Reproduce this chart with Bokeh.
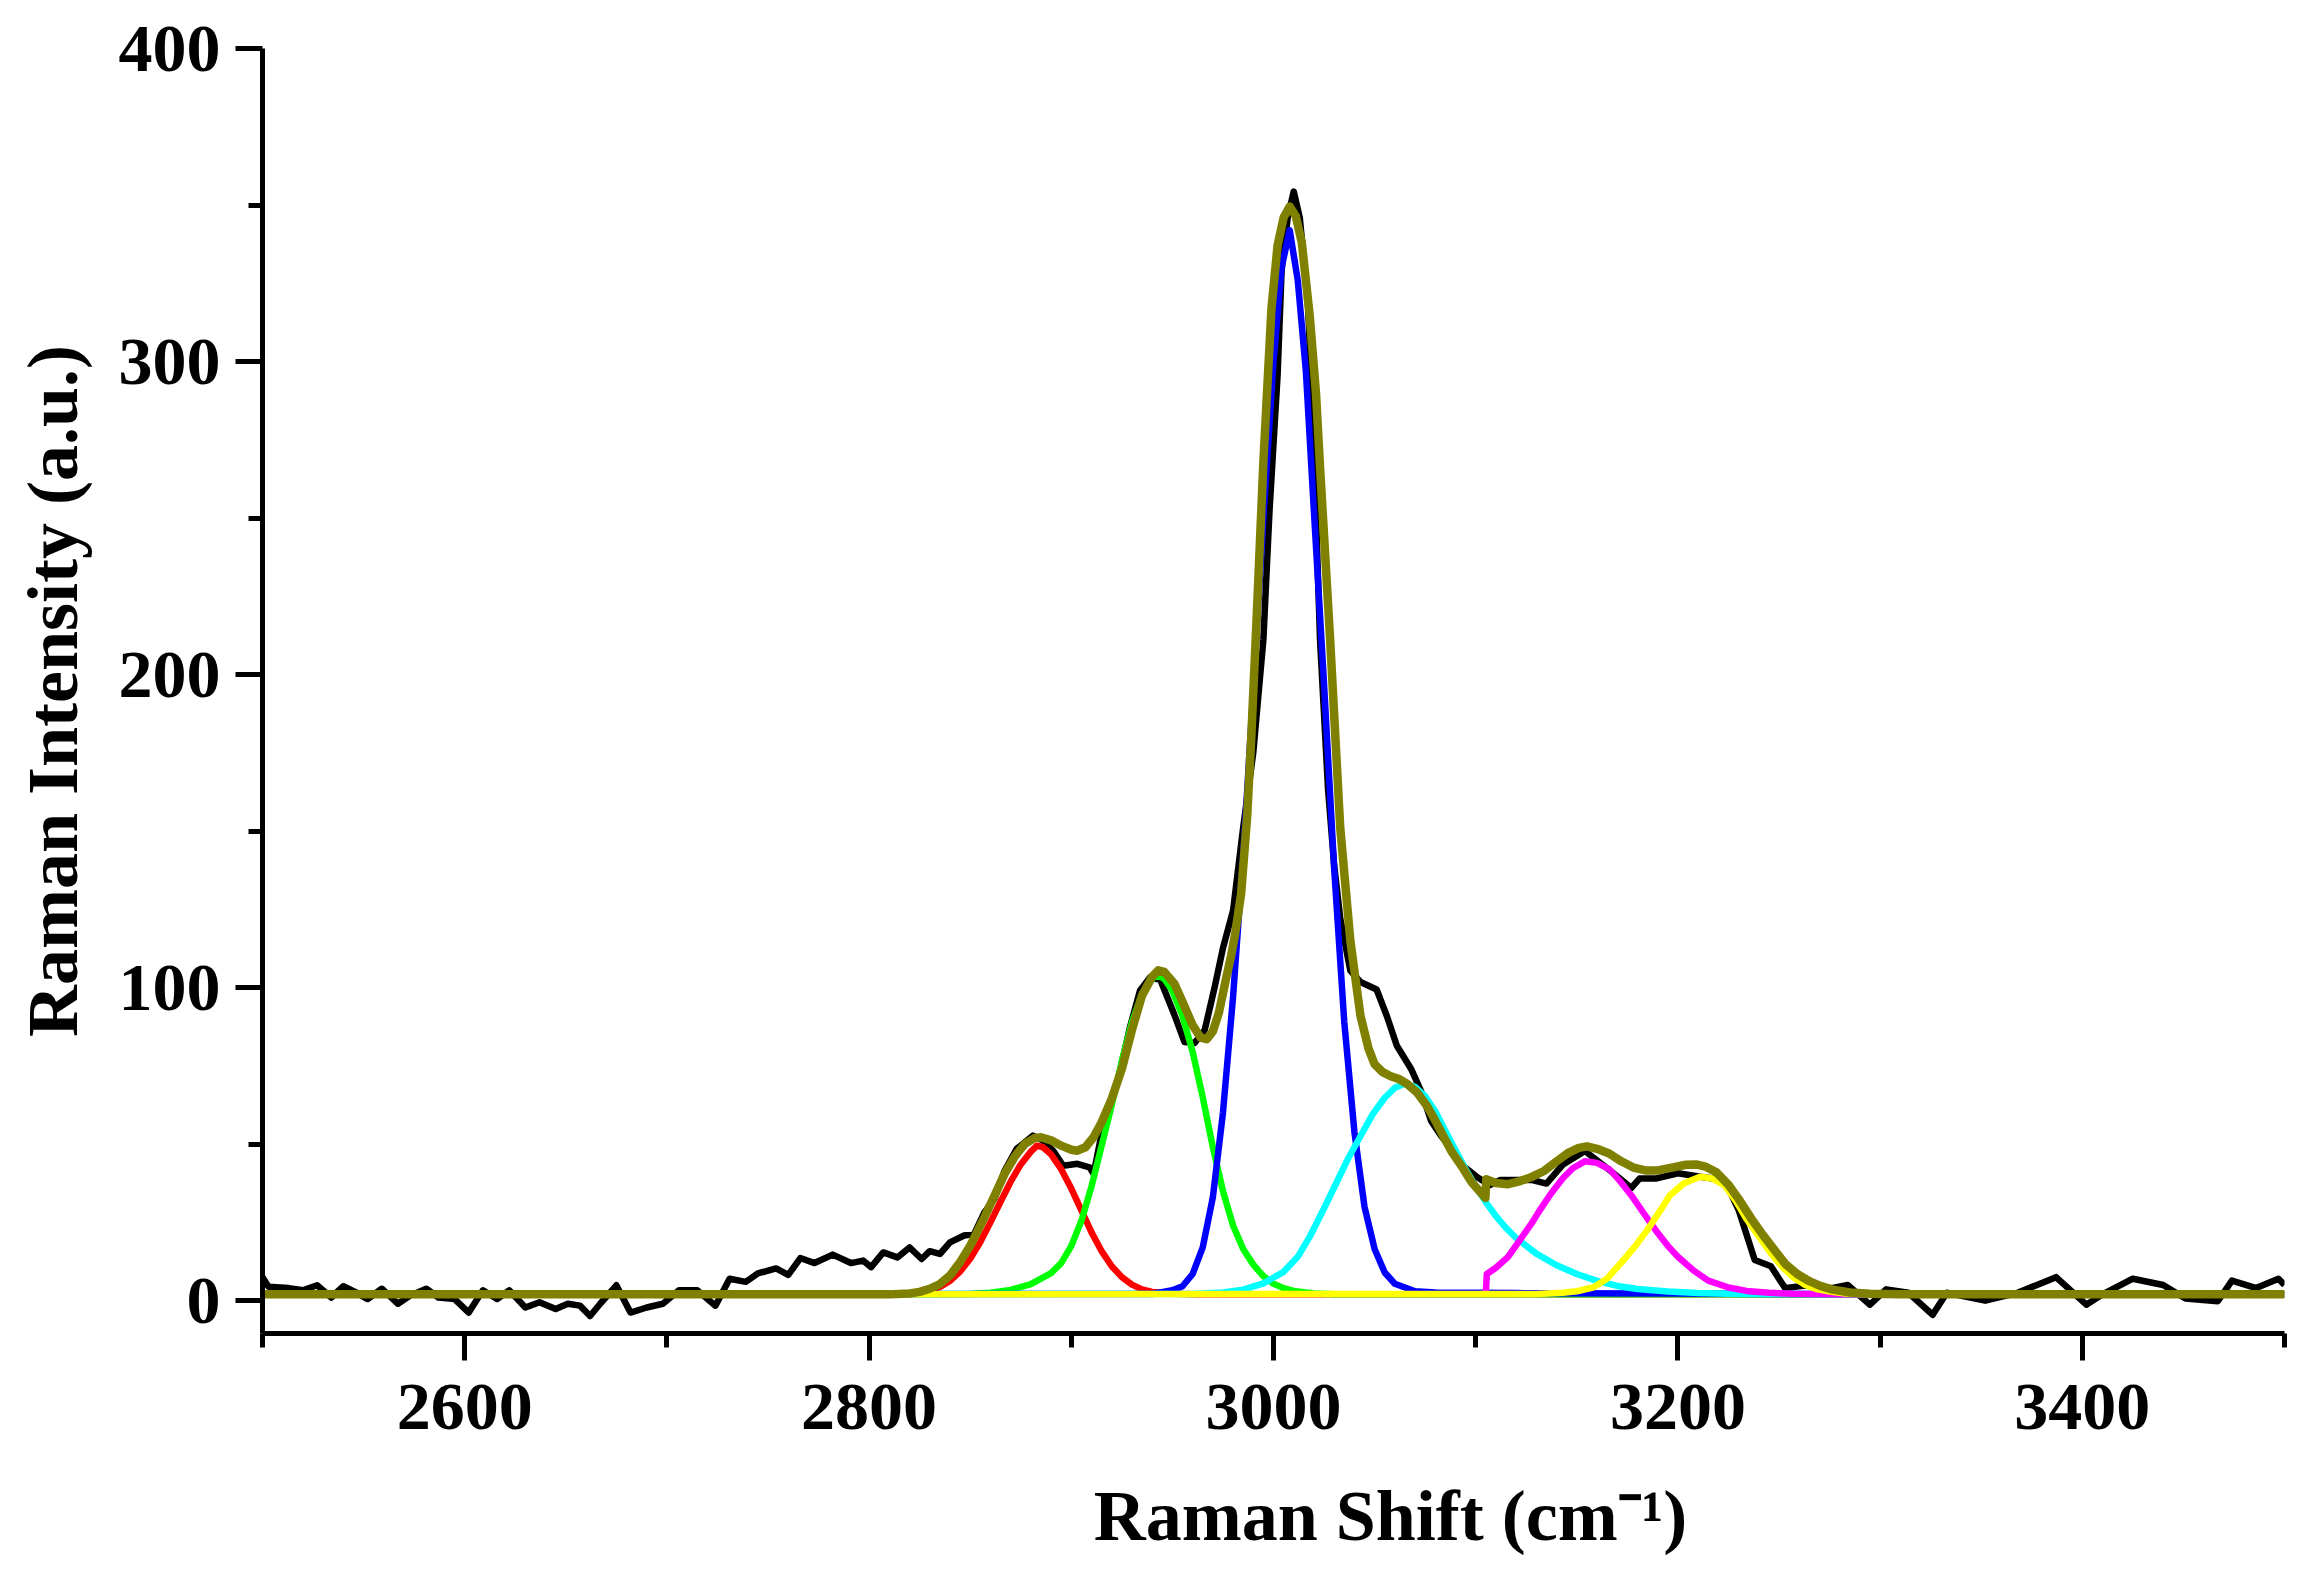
from bokeh.plotting import figure
from bokeh.models import Range1d, FixedTicker
from bokeh.embed import file_html
from bokeh.resources import INLINE

# ---------------- data ----------------
# measured spectrum (black)
data_x = [2500, 2503, 2513, 2520, 2527, 2534, 2540, 2546, 2552, 2559, 2567, 2573, 2581, 2587, 2595,
          2602, 2609, 2616, 2622, 2630, 2637, 2645, 2651, 2657, 2662, 2667, 2675, 2682, 2690, 2698,
          2706, 2715, 2724, 2731, 2739, 2745, 2754, 2760, 2766, 2773, 2782, 2791, 2797, 2801, 2807,
          2814, 2820, 2826, 2830, 2835, 2840, 2847, 2852, 2857, 2862, 2867, 2873, 2881, 2886, 2891,
          2896, 2903, 2909, 2911, 2916, 2923, 2929, 2934, 2939, 2944, 2951, 2956, 2961, 2966, 2971,
          2975, 2980, 2985, 2990, 2995, 2998, 3002, 3004, 3007, 3010, 3013, 3017, 3020, 3023, 3027,
          3030, 3033, 3038, 3043, 3051, 3056, 3061, 3068, 3073, 3078, 3083, 3089, 3094, 3101, 3107,
          3112, 3120, 3128, 3135, 3143, 3154, 3166, 3177, 3181, 3189, 3200, 3211, 3223, 3230, 3238,
          3246, 3253, 3265, 3276, 3284, 3295, 3303, 3314, 3326, 3333, 3352, 3368, 3387, 3402, 3410,
          3425, 3440, 3451, 3467, 3474, 3486, 3497, 3500]
data_y = [7.5, 4.4, 4.0, 3.3, 4.9, 1.0, 4.6, 2.7, 0.5, 3.8, -1.0, 1.6, 3.8, 1.0, 0.5,
          -3.8, 3.3, 0.5, 3.3, -2.2, -0.5, -2.7, -1.0, -1.6, -4.9, -1.0, 4.9, -3.8, -2.2, -1.0,
          3.3, 3.3, -1.6, 7.0, 6.0, 8.7, 10.3, 8.2, 13.6, 12.0, 14.7, 12.0, 12.8, 10.7, 15.4,
          13.8, 17.0, 13.3, 15.8, 14.9, 18.6, 20.8, 21.3, 28.2, 32.5, 41.5, 48.5, 52.7, 51.1, 47.9,
          43.1, 43.7, 42.6, 40.5, 56.5, 70.3, 87.3, 99.1, 103.3, 102.5, 91.3, 82.6, 82.3, 86.5, 100.4,
          112.6, 124.6, 151.1, 175.1, 211.2, 252.0, 295.4, 329.0, 345.9, 354.3, 345.9, 319.4, 271.3, 211.3, 163.1,
          139.1, 122.2, 105.4, 101.8, 99.4, 91.0, 81.4, 74.1, 66.9, 57.3, 52.5, 47.7, 42.9, 39.3, 36.9,
          38.5, 38.5, 38.5, 37.4, 43.4, 47.8, 41.8, 36.0, 39.0, 39.0, 40.7, 39.6, 38.5, 29.0, 13.0,
          11.0, 4.0, 5.0, 4.0, 5.0, -1.3, 3.6, 2.5, -4.5, 2.5, 0.0, 2.5, 7.5, -1.3, 2.0,
          7.0, 5.0, 0.7, -0.2, 6.4, 4.0, 7.0, 5.0]

# fitted peak 1 (red)
red_x = [2500, 2810, 2820, 2825, 2830, 2835, 2840, 2845, 2850, 2855, 2860, 2865, 2870, 2875, 2880, 2883,
         2886, 2890, 2895, 2900, 2905, 2910, 2915, 2920, 2925, 2930, 2935, 2940, 2950, 2960, 3500]
red_y = [2.0, 2.0, 2.2, 2.6, 3.3, 4.4, 6.3, 9.3, 13.4, 18.7, 25.0, 31.6, 38.0, 43.5, 47.6, 49.5,
         49.0, 46.7, 42.0, 35.8, 28.8, 21.8, 15.8, 11.0, 7.5, 5.1, 3.6, 2.8, 2.2, 2.0, 2.0]

# fitted peak 2 (green)
green_x = [2500, 2850, 2860, 2870, 2880, 2890, 2895, 2900, 2905, 2910, 2915, 2920, 2925, 2930, 2935, 2940,
           2943, 2946, 2950, 2955, 2960, 2965, 2970, 2975, 2980, 2985, 2990, 2995, 3000, 3005, 3010,
           3020, 3030, 3500]
green_y = [2.0, 2.1, 2.5, 3.4, 5.3, 8.8, 12.0, 17.5, 25.5, 36.5, 49.5, 62.5, 76.5, 89.0, 98.0, 103.0,
           103.9, 102.8, 99.0, 91.0, 79.5, 65.0, 49.0, 35.0, 24.0, 16.5, 11.5, 7.8, 5.4, 4.0, 3.1,
           2.3, 2.0, 2.0]

# fitted peak 3 (blue)
blue_x = [2500, 2940, 2950, 2955, 2960, 2965, 2970, 2975, 2980, 2985, 2990, 2995, 3000, 3004, 3008,
          3012, 3016, 3020, 3025, 3030, 3035, 3040, 3045, 3050, 3055, 3060, 3070, 3080, 3120, 3200,
          3260, 3500]
blue_y = [2.0, 2.1, 3.3, 4.6, 8.5, 17.0, 33.0, 60.0, 97.0, 142.0, 195.0, 250.0, 300.0, 330.0, 342.0,
          326.0, 297.0, 252.0, 197.0, 138.0, 89.0, 54.0, 30.0, 16.5, 9.0, 5.4, 3.0, 2.6, 2.4, 2.3,
          2.1, 2.0]

# fitted peak 4 (cyan)
cyan_x = [2500, 2960, 2975, 2985, 2995, 3005, 3012, 3018, 3025, 3031, 3037, 3043, 3049, 3055, 3060,
          3065, 3070, 3075, 3080, 3085, 3090, 3095, 3100, 3105, 3110, 3115, 3120, 3130, 3140, 3150,
          3160, 3170, 3180, 3195, 3210, 3230, 3500]
cyan_y = [2.0, 2.1, 2.6, 3.5, 5.5, 9.2, 14.0, 20.5, 29.5, 37.5, 45.5, 52.5, 59.5, 64.8, 68.0,
          69.3, 68.3, 65.3, 60.5, 54.2, 48.0, 42.0, 36.5, 31.5, 27.0, 23.2, 20.0, 15.0, 11.3, 8.5,
          6.3, 4.7, 3.7, 2.9, 2.4, 2.1, 2.0]

# fitted peak 5 (magenta), starts at 3105
magenta_x = [3105, 3105.5, 3110, 3116, 3122, 3128, 3131, 3137, 3143, 3148, 3154, 3160, 3166, 3171,
             3177, 3183, 3189, 3195, 3200, 3208, 3215, 3225, 3234, 3245, 3257, 3284, 3500]
magenta_y = [2.2, 8.5, 10.5, 14.0, 19.5, 25.0, 28.2, 34.0, 39.0, 42.3, 44.5, 44.0, 42.0, 38.5,
             33.6, 28.0, 22.5, 17.5, 14.0, 9.5, 6.4, 4.2, 3.1, 2.5, 2.2, 2.0, 2.0]

# fitted peak 6 (yellow)
yellow_x = [2500, 3130, 3143, 3150, 3158, 3165, 3173, 3179, 3185, 3191, 3196, 3203, 3211, 3217, 3223,
            3229, 3234, 3240, 3246, 3252, 3257, 3263, 3269, 3276, 3284, 3300, 3500]
yellow_y = [2.0, 2.1, 2.5, 3.0, 4.2, 7.0, 12.9, 17.5, 22.7, 28.5, 33.6, 37.5, 39.6, 39.0, 36.9,
            31.5, 26.0, 20.5, 15.1, 10.5, 7.5, 5.0, 3.6, 2.8, 2.2, 2.0, 2.0]

# cumulative fit (olive)
fit_x = [2500, 2810, 2820, 2825, 2830, 2835, 2840, 2845, 2850, 2857, 2862, 2867, 2872, 2877, 2882,
         2885, 2890, 2895, 2900, 2903, 2907, 2911, 2915, 2920, 2925, 2930, 2935, 2940, 2943, 2946,
         2951, 2955, 2960, 2964, 2967, 2970, 2973, 2976, 2979, 2981, 2984, 2987, 2989, 2992, 2995,
         2999, 3002, 3005, 3008, 3011, 3014, 3018, 3021, 3023, 3028, 3033, 3038, 3043, 3047, 3050,
         3054, 3058, 3062, 3066, 3071, 3076, 3080, 3084, 3088, 3093, 3098, 3104.8, 3105.2, 3110, 3116,
         3122, 3128, 3134, 3140, 3146, 3151, 3155, 3160, 3166, 3172, 3178, 3184, 3190, 3197, 3204,
         3209, 3214, 3219, 3225, 3230, 3236, 3242, 3248, 3253, 3259, 3265, 3270, 3276, 3285, 3295,
         3310, 3500]
fit_y = [2.0, 2.0, 2.3, 2.8, 3.8, 5.3, 8.0, 12.3, 17.5, 26.6, 33.5, 40.5, 46.0, 50.1, 52.0,
         52.2, 51.2, 49.5, 48.2, 47.9, 49.0, 52.2, 57.0, 64.5, 74.0, 86.5, 97.5, 103.5, 105.5, 105.0,
         101.2, 95.5, 88.0, 84.0, 83.5, 86.0, 92.0, 101.3, 110.0, 117.0, 130.0, 155.0, 180.0, 223.0, 268.0,
         317.0, 337.0, 346.0, 349.5, 346.5, 338.0, 314.0, 290.0, 266.5, 211.3, 151.1, 115.0, 91.0, 80.5, 75.5,
         73.0, 71.7, 70.8, 69.3, 66.5, 62.1, 57.5, 52.5, 47.7, 43.0, 37.8, 32.8, 38.8, 37.6, 37.2,
         38.2, 39.6, 41.5, 44.5, 47.3, 48.8, 49.3, 48.5, 47.0, 44.5, 42.5, 41.6, 41.6, 42.5, 43.4,
         43.5, 42.7, 41.0, 37.0, 32.5, 26.5, 21.0, 16.0, 11.8, 8.5, 6.2, 4.8, 3.6, 2.6, 2.2,
         2.0, 2.0]

x_major_ticks = [2600, 2800, 3000, 3200, 3400]
x_minor_ticks = [2500, 2700, 2900, 3100, 3300, 3500]
y_major_ticks = [0, 100, 200, 300, 400]
y_minor_ticks = [50, 150, 250, 350]

# the reference title sits right of the axis centre: leading no-break spaces shift it
x_label = "\u00a0" * 13 + "Raman Shift (cm\u207b\u00b9)"
y_label = "Raman Intensity (a.u.)"

# ---------------- figure ----------------
FONT = "Liberation Serif"

p = figure(width=2306, height=1572, output_backend="svg", toolbar_location=None, title=None,
           x_range=Range1d(2500, 3500), y_range=Range1d(-10.5, 400),
           min_border_left=262, min_border_right=22, min_border_top=48, min_border_bottom=239)
p.outline_line_color = None
p.xgrid.visible = False
p.ygrid.visible = False
p.background_fill_color = "white"
p.border_fill_color = "white"

p.xaxis.ticker = FixedTicker(ticks=x_major_ticks, minor_ticks=x_minor_ticks)
p.yaxis.ticker = FixedTicker(ticks=y_major_ticks, minor_ticks=y_minor_ticks)

for ax in (p.xaxis[0], p.yaxis[0]):
    ax.axis_line_width = 5
    ax.axis_line_color = "black"
    ax.major_tick_line_width = 5
    ax.minor_tick_line_width = 5
    ax.major_tick_line_color = "black"
    ax.minor_tick_line_color = "black"
    ax.major_tick_out = 27
    ax.major_tick_in = 0
    ax.minor_tick_out = 14
    ax.minor_tick_in = 0
    ax.major_label_text_font = FONT
    ax.major_label_text_font_style = "bold"
    ax.major_label_text_font_size = "68px"
    ax.major_label_text_color = "black"
    ax.axis_label_text_font = FONT
    ax.axis_label_text_font_style = "bold"
    ax.axis_label_text_font_size = "72px"
    ax.axis_label_text_color = "black"

p.xaxis.major_label_standoff = 24
p.yaxis.major_label_standoff = 15

p.xaxis.axis_label = x_label
p.xaxis.axis_label_standoff = 44
p.yaxis.axis_label = y_label
p.yaxis.axis_label_standoff = 23

# curves
p.line(data_x, data_y, line_color="black", line_width=6.5, line_join="round")
p.line(red_x, red_y, line_color="#FF0000", line_width=6.5, line_join="round")
p.line(green_x, green_y, line_color="#00FF00", line_width=6.5, line_join="round")
p.line(blue_x, blue_y, line_color="#0000FF", line_width=6.5, line_join="round")
p.line(cyan_x, cyan_y, line_color="#00FFFF", line_width=6.5, line_join="round")
p.line(magenta_x, magenta_y, line_color="#FF00FF", line_width=6.5, line_join="round")
p.line(yellow_x, yellow_y, line_color="#FFFF00", line_width=6.5, line_join="round")
p.line(fit_x, fit_y, line_color="#808000", line_width=8.5, line_join="round")

open("out.html", "w").write(file_html(p, INLINE))
